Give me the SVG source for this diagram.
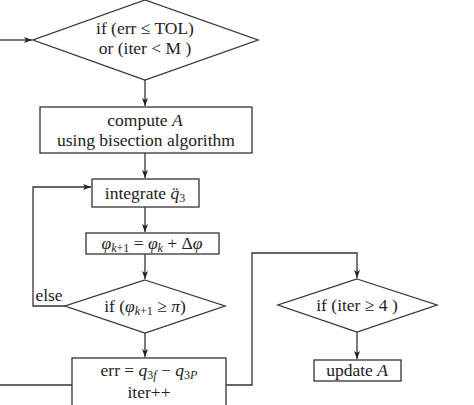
<svg xmlns="http://www.w3.org/2000/svg" width="474" height="405" viewBox="0 0 474 405">
<defs>
<marker id="ah" markerWidth="8" markerHeight="6" refX="8" refY="3" orient="auto" markerUnits="userSpaceOnUse">
<path d="M0,0 L8,3 L0,6 L2,3 Z" fill="#222"/>
</marker>
<style>
.s{fill:#fff;stroke:#333;stroke-width:1.3}
.c{fill:none;stroke:#333;stroke-width:1.3}
.t{font-family:"Liberation Serif",serif;font-size:17.5px;fill:#222;text-anchor:middle}
.i{font-style:italic}
.b{font-size:12px}
</style>
</defs>
<rect width="474" height="405" fill="#fff"/>
<g id="connectors">
<path class="c" d="M0,40 H32" marker-end="url(#ah)"/>
<path class="c" d="M145,80 V106" marker-end="url(#ah)"/>
<path class="c" d="M145,153 V178" marker-end="url(#ah)"/>
<path class="c" d="M65,306 H33 V187 H91" marker-end="url(#ah)"/>
<path class="c" d="M145,207 V232" marker-end="url(#ah)"/>
<path class="c" d="M145,254 V279" marker-end="url(#ah)"/>
<path class="c" d="M145,333 V357" marker-end="url(#ah)"/>
<path class="c" d="M72,385 H0"/>
<path class="c" d="M226,385 H252 V253 H357 V278" marker-end="url(#ah)"/>
<path class="c" d="M357,332 V359" marker-end="url(#ah)"/>
<text class="t" x="49" y="301">else</text>
</g>
<g id="cond1">
<polygon class="s" points="145,0 258,40 145,80 33,40"/>
<text class="t" x="145" y="34" font-size="17">if (err ≤ TOL)</text>
<text class="t" x="145" y="54" font-size="17">or (iter &lt; M )</text>
</g>
<g id="computeA">
<rect class="s" x="40" y="107" width="212" height="46"/>
<text class="t" x="145" y="126">compute <tspan class="i">A</tspan></text>
<text class="t" x="146" y="146">using bisection algorithm</text>
</g>
<g id="integrate">
<rect class="s" x="92" y="179" width="107" height="28"/>
<text class="t" x="145" y="199">integrate <tspan class="i">q̈</tspan><tspan class="b" dy="3">3</tspan></text>
</g>
<g id="phi">
<rect class="s" x="86" y="233" width="133" height="21"/>
<text class="t" x="152" y="249"><tspan class="i">φ</tspan><tspan class="i b" dy="3">k</tspan><tspan class="b">+1</tspan><tspan dy="-3"> = </tspan><tspan class="i">φ</tspan><tspan class="i b" dy="3">k</tspan><tspan dy="-3"> + Δ</tspan><tspan class="i">φ</tspan></text>
</g>
<g id="cond2">
<polygon class="s" points="145,280 225,306 145,333 65,306"/>
<text class="t" x="145" y="312">if (<tspan class="i">φ</tspan><tspan class="i b" dy="3">k</tspan><tspan class="b">+1</tspan><tspan dy="-3"> ≥ </tspan><tspan class="i">π</tspan>)</text>
</g>
<g id="err">
<rect class="s" x="72" y="358" width="154" height="60"/>
<text class="t" x="149" y="376" font-size="17"><tspan>err = </tspan><tspan class="i">q</tspan><tspan class="b" dy="2.5">3</tspan><tspan class="i b">f</tspan><tspan dy="-2.5"> − </tspan><tspan class="i">q</tspan><tspan class="b" dy="2.5">3</tspan><tspan class="i b">P</tspan></text>
<text class="t" x="149" y="398" font-size="17">iter++</text>
</g>
<g id="cond3">
<polygon class="s" points="357,279 437,305 357,332 278,305"/>
<text class="t" x="357" y="311">if (iter ≥ 4 )</text>
</g>
<g id="updateA">
<rect class="s" x="314" y="360" width="87" height="21"/>
<text class="t" x="357" y="376">update <tspan class="i">A</tspan></text>
</g>
</svg>
